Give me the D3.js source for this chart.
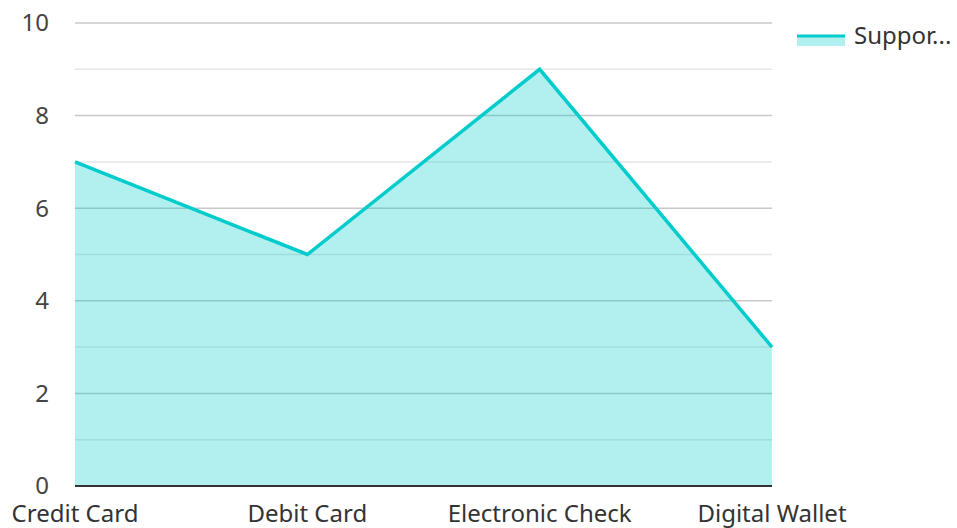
<!DOCTYPE html>
<html>
<head>
<meta charset="utf-8">
<script src="https://cdn.jsdelivr.net/npm/d3@7"></script>
<style>
  body { margin: 0; background: #fff; }
  text { font-family: "Noto Sans", "Open Sans", sans-serif; }
</style>
</head>
<body>
<svg id="chart" width="957" height="528"></svg>
<script>
// chart data
const categories = ["Credit Card", "Debit Card", "Electronic Check", "Digital Wallet"];
const supportValues = [7, 5, 9, 3];
const yTicks = [0, 2, 4, 6, 8, 10];
const seriesName = "Support Tickets";

const svg = d3.select("#chart");
const margin = { top: 23, right: 185, bottom: 42, left: 75 };
const width = 957 - margin.left - margin.right;
const height = 528 - margin.top - margin.bottom;

const g = svg.append("g").attr("transform", `translate(${margin.left},${margin.top})`);

const x = d3.scalePoint().domain(categories).range([0, width]);
const y = d3.scaleLinear().domain([0, 10]).range([height, 0]);

// minor + major gridlines
g.selectAll(".grid")
  .data(d3.range(1, 11))
  .enter()
  .append("line")
  .attr("x1", 0)
  .attr("x2", width)
  .attr("y1", (d) => y(d))
  .attr("y2", (d) => y(d))
  .attr("stroke", (d) => (d % 2 === 0 ? "#c8c8c8" : "#e6e6e6"))
  .attr("stroke-width", 1.5);

const data = categories.map((c, i) => ({ cat: c, value: supportValues[i] }));

// filled area under the line
const area = d3.area()
  .x((d) => x(d.cat))
  .y0(y(0))
  .y1((d) => y(d.value));

g.append("path")
  .datum(data)
  .attr("d", area)
  .attr("fill", "rgba(0, 204, 204, 0.3)");

const line = d3.line()
  .x((d) => x(d.cat))
  .y((d) => y(d.value));

g.append("path")
  .datum(data)
  .attr("d", line)
  .attr("fill", "none")
  .attr("stroke", "#00cccc")
  .attr("stroke-width", 3.5)
  .attr("stroke-linejoin", "miter");

// y axis labels
g.selectAll(".ylabel")
  .data(yTicks)
  .enter()
  .append("text")
  .attr("x", -26)
  .attr("y", (d) => y(d))
  .attr("dy", "0.35em")
  .attr("text-anchor", "end")
  .attr("font-size", 24)
  .attr("fill", "#444")
  .text((d) => d);

// bottom axis line
g.append("line")
  .attr("x1", 0)
  .attr("x2", width)
  .attr("y1", height)
  .attr("y2", height)
  .attr("stroke", "#333")
  .attr("stroke-width", 2);

// category labels
g.selectAll(".xlabel")
  .data(categories)
  .enter()
  .append("text")
  .attr("x", (d) => x(d))
  .attr("y", height + 36)
  .attr("text-anchor", "middle")
  .attr("font-size", 24)
  .attr("fill", "#333")
  .text((d) => d);

// legend
const legend = svg.append("g").attr("transform", "translate(797,36)");
legend.append("rect")
  .attr("x", 0)
  .attr("y", 0)
  .attr("width", 48)
  .attr("height", 10)
  .attr("fill", "rgba(0, 204, 204, 0.3)");
legend.append("line")
  .attr("x1", 0)
  .attr("x2", 48)
  .attr("y1", 0)
  .attr("y2", 0)
  .attr("stroke", "#00cccc")
  .attr("stroke-width", 3);
legend.append("text")
  .attr("x", 57)
  .attr("y", 0)
  .attr("dy", "0.35em")
  .attr("font-size", 24)
  .attr("fill", "#333")
  .text(seriesName.slice(0, 6) + "...");
</script>
</body>
</html>
